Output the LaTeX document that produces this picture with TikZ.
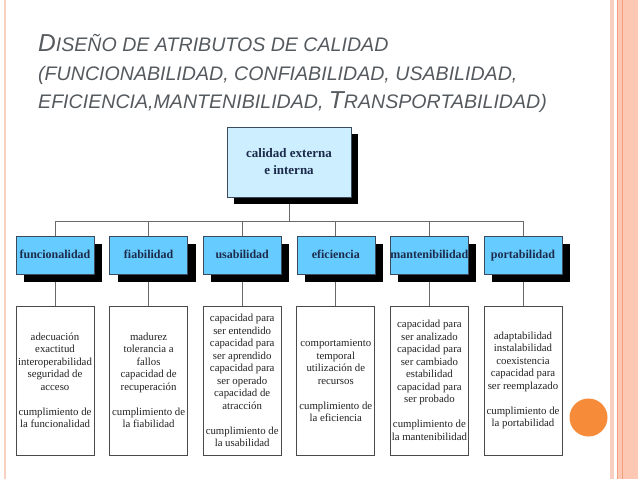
\documentclass[tikz,border=0pt]{standalone}
\usepackage{fontspec}
\setmainfont{Liberation Serif}
\newfontfamily\titlefont{Liberation Sans}
\usetikzlibrary{shadows,backgrounds}
\definecolor{titlegray}{HTML}{555A5F}
\definecolor{topblue}{HTML}{CCEEFF}
\definecolor{attrblue}{HTML}{66CCFF}
\definecolor{navytext}{HTML}{1C2B4B}
\definecolor{boxedge}{HTML}{3A4A5A}
\definecolor{listedge}{HTML}{4A4A4A}
\definecolor{listtext}{HTML}{222222}
\definecolor{linkgray}{HTML}{6A6A6A}
\definecolor{palepink}{HTML}{F8D0C2}
\definecolor{bandsalmon}{HTML}{FCC8B4}
\definecolor{bandline}{HTML}{F2A07E}
\definecolor{dotorange}{HTML}{F68B3A}
\newcommand{\tbig}{\fontsize{24.5}{28}\selectfont}
\newcommand{\tsmall}{\fontsize{19.6}{22}\selectfont}

\begin{document}
\begin{tikzpicture}[
  x=1pt, y=-1pt,
  link/.style={draw=linkgray, line width=0.9pt},
  topbox/.style={draw=boxedge, line width=0.6pt, fill=topblue, minimum width=124pt, minimum height=70pt, align=center, text=navytext, font=\bfseries\fontsize{13}{17}\selectfont, drop shadow={shadow xshift=7pt, shadow yshift=-7pt, fill=black, opacity=1}},
  attrbox/.style={draw=boxedge, line width=0.6pt, fill=attrblue, minimum width=78pt, minimum height=38pt, inner sep=0pt, text height=8.5pt, text depth=2.5pt, text=navytext, font=\bfseries\fontsize{12}{14}\selectfont, drop shadow={shadow xshift=8pt, shadow yshift=-8pt, fill=black, opacity=1}},
  listbox/.style={draw=listedge, line width=0.7pt, fill=white, minimum width=78pt, minimum height=149pt, inner sep=0pt, align=center, text=listtext, font=\fontsize{10.8}{12.5}\selectfont},
  title/.style={anchor=base west, inner sep=0pt, text=titlegray, font=\titlefont\itshape}
]
  \useasboundingbox (0,0) rectangle (638,479);

  % slide frame
  \fill[palepink] (3.5,0) rectangle (6,479);
  \fill[palepink] (610,0) rectangle (613.5,479);
  \fill[bandsalmon] (616.5,0) rectangle (638,479);
  \draw[bandline, line width=1pt] (617.5,0) -- (617.5,479);
  \draw[bandline, line width=1pt] (622.5,0) -- (622.5,479);
  \fill[dotorange] (588.5,417.5) circle[radius=19pt];

  % title
  \node[title] (tline1) at (38,52) {{\tbig D}{\tsmall ISEÑO DE ATRIBUTOS DE CALIDAD}};
  \node[title] (tline2) at (38,80) {{\tsmall (FUNCIONABILIDAD, CONFIABILIDAD, USABILIDAD,}};
  \node[title] (tline3) at (38,108) {{\tsmall EFICIENCIA,MANTENIBILIDAD, }{\tbig T}{\tsmall RANSPORTABILIDAD)}};

  % tree
  \node[topbox] (calidad) at (289,162) {calidad externa\\e interna};

  \node[attrbox] (funcq) at (55,255) {funcionalidad};
  \node[attrbox] (fiabq) at (148.6,255) {fiabilidad};
  \node[attrbox] (usabq) at (242.2,255) {usabilidad};
  \node[attrbox] (eficq) at (335.8,255) {eficiencia};
  \node[attrbox] (mantq) at (429.4,255) {mantenibilidad};
  \node[attrbox] (portq) at (523,255) {portabilidad};

  \node[listbox] (funcl) at (55,380.5) {adecuación\\exactitud\\interoperabilidad\\seguridad de\\acceso\\[12.5pt]cumplimiento de\\la funcionalidad};
  \node[listbox] (fiabl) at (148.6,380.5) {madurez\\tolerancia a\\fallos\\capacidad de\\recuperación\\[12.5pt]cumplimiento de\\la fiabilidad};
  \node[listbox] (usabl) at (242.2,380.5) {capacidad para\\ser entendido\\capacidad para\\ser aprendido\\capacidad para\\ser operado\\capacidad de\\atracción\\[12.5pt]cumplimiento de\\la usabilidad};
  \node[listbox] (eficl) at (335.8,380.5) {comportamiento\\temporal\\utilización de\\recursos\\[12.5pt]cumplimiento de\\la eficiencia};
  \node[listbox] (mantl) at (429.4,380.5) {capacidad para\\ser analizado\\capacidad para\\ser cambiado\\estabilidad\\capacidad para\\ser probado\\[12.5pt]cumplimiento de\\la mantenibilidad};
  \node[listbox] (portl) at (523,380.5) {adaptabilidad\\instalabilidad\\coexistencia\\capacidad para\\ser reemplazado\\[12.5pt]cumplimiento de\\la portabilidad};

  \begin{scope}[on background layer]
    \coordinate (bus) at (289,221);
    \draw[link] (calidad.south) -- (bus);
    \draw[link] (funcq.north) |- (portq.north |- bus) -- (portq.north);
    \draw[link] (fiabq.north) -- (fiabq.north |- bus);
    \draw[link] (usabq.north) -- (usabq.north |- bus);
    \draw[link] (eficq.north) -- (eficq.north |- bus);
    \draw[link] (mantq.north) -- (mantq.north |- bus);
    \draw[link] (funcq) -- (funcl);
    \draw[link] (fiabq) -- (fiabl);
    \draw[link] (usabq) -- (usabl);
    \draw[link] (eficq) -- (eficl);
    \draw[link] (mantq) -- (mantl);
    \draw[link] (portq) -- (portl);
  \end{scope}
\end{tikzpicture}
\end{document}
